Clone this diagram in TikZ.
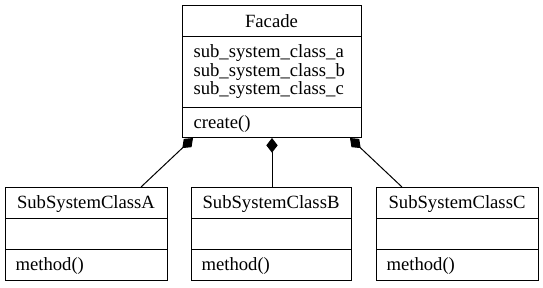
\documentclass[tikz,border=0pt]{standalone}
\usepackage{fontspec}
\setmainfont{Liberation Serif}
\usetikzlibrary{arrows.meta}
\begin{document}
\begin{tikzpicture}[x=0.75pt,y=-0.75pt,line width=0.75pt,
  font=\fontsize{14}{16}\selectfont,
  classbox/.style={draw,rectangle,inner sep=0pt,anchor=north west,minimum height=69.75pt},
  txt/.style={inner sep=0pt,anchor=base},
  ltxt/.style={inner sep=0pt,anchor=base west},
  comp/.style={{Diamond[length=11pt,width=8.5pt]}-}]
\useasboundingbox (0,0) rectangle (543,287);
% Facade
\node[classbox,minimum width=134.25pt,minimum height=99pt] (facade) at (182,5) {};
\draw (facade.west |- 0,36) -- (facade.east |- 0,36);
\draw (facade.west |- 0,107) -- (facade.east |- 0,107);
\node[txt] (ftitle) at (271.5,27) {Facade};
\node[ltxt] (fa1) at (193,57) {sub\_system\_class\_a};
\node[ltxt] (fa2) at (193,76) {sub\_system\_class\_b};
\node[ltxt] (fa3) at (193,94.5) {sub\_system\_class\_c};
\node[ltxt] (fm) at (193,128) {create()};
% Subsystems
\node[classbox,minimum width=121.5pt] (subA) at (5,187) {};
\node[classbox,minimum width=120pt] (subB) at (191,187) {};
\node[classbox,minimum width=121.5pt] (subC) at (376,187) {};
\foreach \b/\n/\x/\c in {subA/A/5/86, subB/B/191/271, subC/C/376/457}{
  \draw (\b.west |- 0,218) -- (\b.east |- 0,218);
  \draw (\b.west |- 0,249) -- (\b.east |- 0,249);
  \node[txt] (\b title) at (\c,208) {SubSystemClass\n};
  \node[ltxt] (\b method) at (\x+10,270) {method()};
}
% Composition connectors
\coordinate (fl) at ([xshift=8.25pt]facade.south west);
\coordinate (fr) at ([xshift=-9pt]facade.south east);
\coordinate (al) at ([xshift=-20.25pt]subA.north east);
\coordinate (cl) at ([xshift=19.5pt]subC.north west);
\draw[comp] (fl) -- (al);
\draw[comp] (facade.south) -- (facade.south |- subB.north);
\draw[comp] (fr) -- (cl);
\end{tikzpicture}
\end{document}
